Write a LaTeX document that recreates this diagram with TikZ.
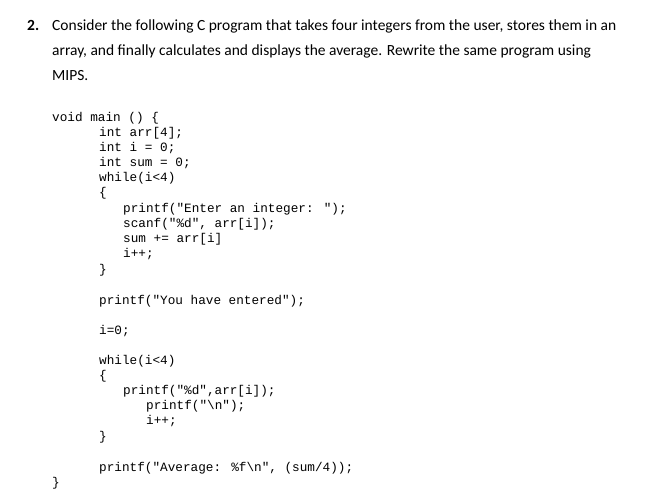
\documentclass[tikz,border=0pt]{standalone}
\usepackage{fontspec}
\setmainfont{Carlito}
\newfontfamily\codefont{Liberation Mono}
\begin{document}
\begin{tikzpicture}[x=1pt,y=-1pt,
  head/.style={anchor=base west,inner sep=0pt,font=\fontsize{15.5}{18}\selectfont},
  code/.style={anchor=base west,inner sep=0pt,font=\codefont\fontsize{12.7}{15}\selectfont}]
\useasboundingbox[fill=white] (0,0) rectangle (654,500);
\node[head] (n) at (27,31) {\textbf{2.}};
\node[head] (h1) at (52,31) {Consider the following C program that takes four integers from the user, stores them in an};
\node[head] (h2) at (52,56) {array, and finally calculates and displays the average. Rewrite the same program using};
\node[head] (h3) at (52,81) {MIPS.};
\node[code] (c1) at (52,122) {void main () \{};
\node[code] (c2) at (99,137) {int arr[4];};
\node[code] (c3) at (99,152) {int i = 0;};
\node[code] (c4) at (99,167) {int sum = 0;};
\node[code] (c5) at (99,182) {while(i<4)};
\node[code] (c6) at (99,197) {\{};
\node[code] (c7) at (123,213) {printf("Enter an integer: ");};
\node[code] (c8) at (123,228) {scanf("\%d", arr[i]);};
\node[code] (c9) at (123,243) {sum += arr[i]};
\node[code] (c10) at (123,258) {i++;};
\node[code] (c11) at (99,273) {\}};
\node[code] (c12) at (99,304) {printf("You have entered");};
\node[code] (c13) at (99,334) {i=0;};
\node[code] (c14) at (99,364) {while(i<4)};
\node[code] (c15) at (99,379) {\{};
\node[code] (c16) at (123,394) {printf("\%d",arr[i]);};
\node[code] (c17) at (146,409) {printf("\textbackslash n");};
\node[code] (c18) at (146,424) {i++;};
\node[code] (c19) at (99,440) {\}};
\node[code] (c20) at (99,471) {printf("Average: \%f\textbackslash n", (sum/4));};
\node[code] (c21) at (52,486) {\}};
\end{tikzpicture}
\end{document}
